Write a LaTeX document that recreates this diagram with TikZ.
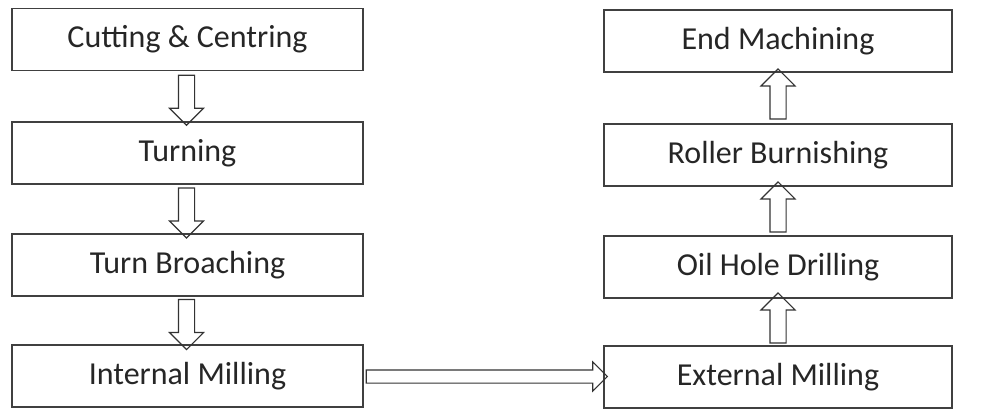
\documentclass[tikz,border=0pt]{standalone}
\usepackage{fontspec}
\setmainfont{Carlito}
\usetikzlibrary{shapes.arrows,calc}
\begin{document}
\begin{tikzpicture}[x=1pt,y=-1pt,
  box/.style={draw=black!75,line width=1.3pt,minimum height=62pt,inner sep=0pt,font=\fontsize{32}{36}\selectfont,text=black!85},
  lbox/.style={box,minimum width=351pt},
  rbox/.style={box,minimum width=348pt},
  harr/.style={single arrow,draw=black!80,line width=1.1pt,inner sep=7.5pt,single arrow head extend=9pt,single arrow head indent=0pt},
]
\useasboundingbox (0,0) rectangle (981,419);
\node[lbox] (a) at (187.5,39.5) {Cutting \& Centring};
\node[lbox] (b) at (187.5,153) {Turning};
\node[lbox] (c) at (187.5,265) {Turn Broaching};
\node[lbox] (d) at (187.5,376) {Internal Milling};
\node[rbox] (e) at (778,377) {External Milling};
\node[rbox] (f) at (778,267) {Oil Hole Drilling};
\node[rbox] (g) at (778,155) {Roller Burnishing};
\node[rbox] (h) at (778,41) {End Machining};
\foreach \s/\t in {a/b,b/c,c/d}{
  \node[harr,shape border rotate=270,minimum height=50pt] (ar\s) at ($(\s.south)!0.5!(\t.north)+(-1,0)$) {};
}
\foreach \s/\t in {e/f,f/g,g/h}{
  \node[harr,shape border rotate=90,minimum height=50pt] (ar\s) at ($(\s.north)!0.5!(\t.south)$) {};
}
\node[harr,inner sep=6pt,single arrow head extend=8pt,minimum height=241pt] (ade) at ($(d.east)!0.5!(e.west)$) {};
\end{tikzpicture}
\end{document}
